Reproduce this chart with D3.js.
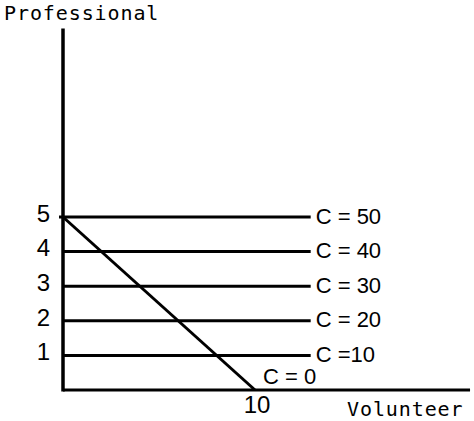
<!DOCTYPE html>
<html>
<head>
<meta charset="utf-8">
<script src="https://cdn.jsdelivr.net/npm/d3@7"></script>
<style>
    body { margin: 0; background: #fff; }
    svg { display: block; }
    .lbl { font-family: "Liberation Sans", sans-serif; font-size: 22px; fill: #000; }
    .tick { font-family: "Liberation Sans", sans-serif; font-size: 24px; fill: #000; }
    .title { font-family: "DejaVu Sans Mono", monospace; font-size: 20px; fill: #000; letter-spacing: 0.9px; }
</style>
</head>
<body>
<div id="chart"></div>
<script>
// Data
var levels = [5, 4, 3, 2, 1];                 // professional hours for each cost line
var costLabels = ["C = 50", "C = 40", "C = 30", "C = 20", "C =10"];
var zeroLabel = "C = 0";
var budget = [{volunteer: 0, professional: 5}, {volunteer: 10, professional: 0}];
var xTicks = [10];
var yTicks = [1, 2, 3, 4, 5];
var lineEnd = 12.9;                           // where the cost lines stop on the volunteer axis
var xMax = 21.2;
var yMax = 10.45;

var width = 474, height = 421;

var svg = d3.select("#chart")
    .append("svg")
    .attr("width", width)
    .attr("height", height);

// scales: origin at (63, 390)
var x = d3.scaleLinear().domain([0, 10]).range([63, 255]);
var y = d3.scaleLinear().domain([0, 5]).range([390, 217]);

// axes (drawn as plain lines, like the original)
svg.append("line")
    .attr("x1", x(0)).attr("x2", x(0))
    .attr("y1", y(0) + 1.5).attr("y2", y(yMax))
    .attr("stroke", "#000").attr("stroke-width", 3.5);

svg.append("line")
    .attr("x1", x(0)).attr("x2", x(xMax))
    .attr("y1", y(0)).attr("y2", y(0))
    .attr("stroke", "#000").attr("stroke-width", 3);

// cost lines
svg.append("g").selectAll("line")
    .data(levels)
    .join("line")
    .attr("x1", function (d, i) { return i === 0 ? x(0) - 4 : x(0); })
    .attr("x2", x(lineEnd))
    .attr("y1", function (d) { return y(d); })
    .attr("y2", function (d) { return y(d); })
    .attr("stroke", "#000")
    .attr("stroke-width", 3);

svg.append("g").selectAll("text")
    .data(levels)
    .join("text")
    .attr("class", "lbl")
    .attr("x", x(lineEnd) + 5)
    .attr("y", function (d) { return y(d); })
    .attr("dy", "0.3em")
    .text(function (d, i) { return costLabels[i]; });

svg.append("text")
    .attr("class", "lbl")
    .attr("x", x(10) + 8)
    .attr("y", y(0) - 6)
    .text(zeroLabel);

// budget line
var line = d3.line()
    .x(function (d) { return x(d.volunteer); })
    .y(function (d) { return y(d.professional); });

svg.append("path")
    .datum(budget)
    .attr("d", line)
    .attr("fill", "none")
    .attr("stroke", "#000")
    .attr("stroke-width", 3);

// tick labels
svg.append("g").selectAll("text")
    .data(yTicks)
    .join("text")
    .attr("class", "tick")
    .attr("x", 50)
    .attr("y", function (d) { return y(d); })
    .attr("dy", "0.2em")
    .attr("text-anchor", "end")
    .text(function (d) { return d; });

svg.append("g").selectAll("text")
    .data(xTicks)
    .join("text")
    .attr("class", "tick")
    .attr("x", function (d) { return x(d) + 2; })
    .attr("y", y(0) + 23)
    .attr("text-anchor", "middle")
    .text(function (d) { return d; });

// axis titles
svg.append("text")
    .attr("class", "title")
    .attr("x", 4)
    .attr("y", 20)
    .text("Professional");

svg.append("text")
    .attr("class", "title")
    .attr("x", 347)
    .attr("y", 416)
    .text("Volunteer");
</script>
</body>
</html>
